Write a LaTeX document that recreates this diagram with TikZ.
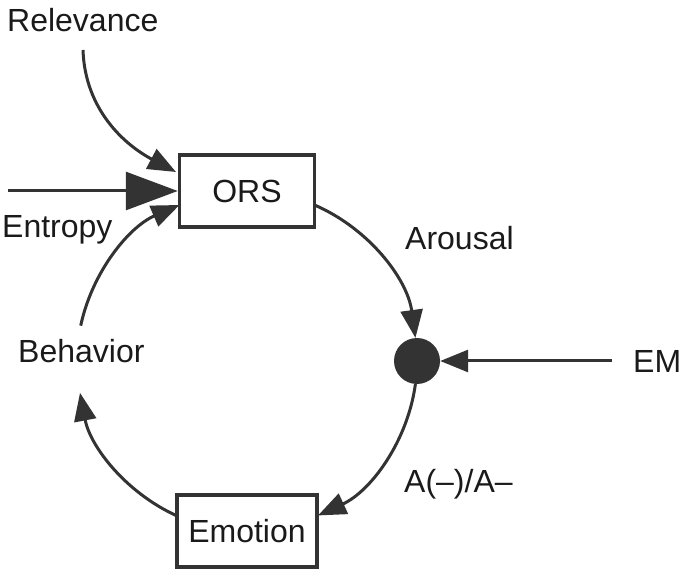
\documentclass[tikz,border=0pt]{standalone}
\usepackage{fontspec}
\setmainfont{Liberation Sans}
\usetikzlibrary{arrows.meta}
\definecolor{ink}{HTML}{333333}
\definecolor{txt}{HTML}{1A1A1A}
\tikzset{
  box/.style={draw=ink, line width=3.5pt, fill=white, minimum width=135pt, minimum height=72pt, inner sep=0pt, text=txt, font=\fontsize{32}{38}\selectfont},
  lbl/.style={inner sep=0pt, text=txt, font=\fontsize{32}{38}\selectfont},
  conn/.style={draw=ink, line width=3pt, -{Triangle[length=28pt,width=22pt]}},
  bigconn/.style={draw=ink, line width=3pt, -{Triangle[length=52pt,width=38pt]}},
  dotnode/.style={circle, fill=ink, minimum size=46pt, inner sep=0pt}
}
\begin{document}
\begin{tikzpicture}[x=1pt,y=1pt]
\useasboundingbox (0,0) rectangle (685,568);
% nodes
\node[box] (ors) at (247,377) {ORS};
\node[box, minimum width=140pt] (emo) at (247,37) {Emotion};
\node[dotnode] (dot) at (417,207) {};
\coordinate (c) at (247,207);
% labels
\node[lbl, anchor=base west] (rel) at (7,536) {Relevance};
\node[lbl, anchor=base west] (ent) at (2,330) {Entropy};
\node[lbl, anchor=base west] (beh) at (18,205) {Behavior};
\node[lbl, anchor=base west] (aro) at (405,318) {Arousal};
\node[lbl, anchor=base west] (aa) at (404,76) {A(–)/A–};
\node[lbl, anchor=base west] (em) at (633,196) {EM};
% free ends
\coordinate (relstart) at (83,518);
\coordinate (relend) at (176,396);
\coordinate (entstart) at (8,377);
\coordinate (emstart) at (612,207);
\path (c) ++(66.6:170) coordinate (a1s);
\path (c) ++(-7.8:170) coordinate (a2s);
\path (c) ++(245.7:170) coordinate (a3s);
\path (c) ++(168:170) coordinate (a4s);
% connectors
\draw[conn] (relstart) .. controls (85,458) and (125,423) .. (relend);
\draw[bigconn] (entstart) -- (ors.west);
\draw[conn] (emstart) -- (dot.east);
\draw[conn] (a1s) arc[start angle=66.6, end angle=7.8, radius=170];
\draw[conn] (a2s) arc[start angle=-7.8, end angle=-65.3, radius=170];
\draw[conn] (a3s) arc[start angle=245.7, end angle=190.8, radius=170];
\draw[conn] (a4s) arc[start angle=168, end angle=113.4, radius=170];
\end{tikzpicture}
\end{document}
